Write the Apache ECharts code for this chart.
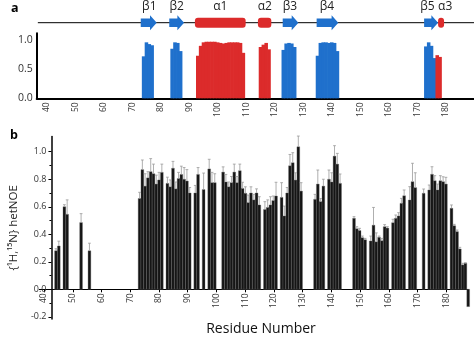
<!DOCTYPE html>
<html><head><meta charset="utf-8">
<script src="https://cdn.jsdelivr.net/npm/echarts@6/dist/echarts.min.js"></script>
<style>html,body{margin:0;padding:0;background:#fff}#c{width:474px;height:338px}</style>
</head><body><div id="c"></div>
<script>
// ---------- data ----------
const xTickLabels = [40,50,60,70,80,90,100,110,120,130,140,150,160,170,180];
const topYTicks = [0, 0.5, 1.0];
const noeYTicks = [-0.2, 0, 0.2, 0.4, 0.6, 0.8, 1.0];
const noeYMinor = [-0.1, 0.1, 0.3, 0.5, 0.7, 0.9];

// secondary structure elements: [label, type, startResidue, endResidue, labelResidue]
const ssElements = [
  ['β1','strand',73.0,78.6,76.0],
  ['β2','strand',83.0,88.2,85.6],
  ['α1','helix',92.0,109.8,100.9],
  ['α2','helix',114.1,118.8,116.5],
  ['β3','strand',122.8,128.3,125.3],
  ['β4','strand',134.7,142.3,138.3],
  ['β5','strand',172.4,177.3,173.6],
  ['α3','helix',177.3,179.4,179.8]
];
const backboneRange = [36.9, 189.9];

// panel a: per-residue propensity
const betaRes = [74,75,76,77, 84,85,86,87, 123,124,125,126,127, 135,136,137,138,139,140,141,142, 173,174,175,176];
const betaVal = [0.72,0.96,0.93,0.91, 0.85,0.96,0.95,0.81, 0.83,0.94,0.95,0.94,0.88, 0.73,0.95,0.96,0.96,0.95,0.96,0.95,0.81, 0.89,0.96,0.90,0.69];
const helixRes = [93,94,95,96,97,98,99,100,101,102,103,104,105,106,107,108,109, 115,116,117,118, 177,178];
const helixVal = [0.73,0.90,0.96,0.97,0.97,0.97,0.97,0.96,0.95,0.94,0.95,0.96,0.96,0.96,0.96,0.95,0.78, 0.88,0.92,0.95,0.84, 0.74,0.71];

// panel b: hetNOE
const noeRes = [40,41,43,44,49,52,
  70,71,72,73,74,75,76,77,78, 80,81,82,83,84,85,86,87,88, 90,91,93,95,96,97,
  100,101,102,103,104,105,106,107,108,109,110,111,112,113, 115,116,117,118,119,
  121,122,123,124,125,126,127,128, 133,134,135,136,138,139,140,141,142,
  147,148,149,150,151,153,154,155,156,157,158,159, 161,162,163,164,165,167,168,169,
  172,174,175,176,177,178,179,180, 182,183,184,185,186,187,188];
const noeVal = [0.28,0.315,0.60,0.545,0.485,0.28,
  0.66,0.87,0.75,0.81,0.855,0.84,0.765,0.795,0.85, 0.77,0.745,0.88,0.73,0.805,0.835,0.80,0.787,0.70, 0.70,0.835,0.725,0.875,0.775,0.775,
  0.852,0.78,0.745,0.775,0.852,0.775,0.862,0.733,0.698,0.63,0.70,0.65,0.70,0.613, 0.58,0.595,0.613,0.645,0.678,
  0.668,0.533,0.70,0.898,0.92,0.794,1.036,0.714, 0.654,0.765,0.637,0.75,0.80,0.78,0.968,0.91,0.77,
  0.516,0.44,0.427,0.375,0.36,0.351,0.466,0.345,0.378,0.353,0.455,0.445, 0.484,0.516,0.533,0.625,0.68,0.649,0.782,0.739,
  0.698,0.722,0.836,0.789,0.722,0.789,0.782,0.765, 0.589,0.462,0.419,0.293,0.177,0.189,-0.126];
const noeErrTop = [0.295,0.35,0.615,0.65,0.55,0.335,
  0.705,0.94,0.84,0.855,0.95,0.91,0.83,0.85,0.91, 0.815,0.795,0.93,0.78,0.85,0.895,0.885,0.87,0.74, 0.755,0.885,0.845,0.945,0.85,0.84,
  0.89,0.835,0.78,0.82,0.91,0.82,0.91,0.778,0.745,0.685,0.745,0.69,0.73,0.673, 0.637,0.65,0.673,0.678,0.778,
  0.775,0.605,0.74,0.98,0.993,0.847,1.114,0.775, 0.69,0.867,0.66,0.80,0.867,0.847,1.044,0.988,0.838,
  0.528,0.455,0.443,0.387,0.37,0.387,0.595,0.41,0.387,0.37,0.47,0.455, 0.509,0.54,0.557,0.661,0.722,0.746,0.916,0.847,
  0.729,0.758,0.891,0.826,0.765,0.826,0.818,0.814, 0.613,0.472,0.431,0.305,0.189,0.193,-0.126];

// ---------- chart ----------
const F = "'Open Sans','Liberation Sans',sans-serif";
const BLUE = '#1f70cc', RED = '#dc2b2b';
const chart = echarts.init(document.getElementById('c'), null, {renderer:'canvas'});

// bar drawn through axis coordinates: one residue wide, from 0 to value
function barItem(fill, stroke, lw, half){
  return function(params, api){
    const x = api.value(0), v = api.value(1);
    const p0 = api.coord([x-half, Math.max(v,0)]);
    const p1 = api.coord([x+half, Math.min(v,0)]);
    const style = {fill:fill};
    if (stroke) { style.stroke = stroke; style.lineWidth = lw; }
    return {type:'rect', shape:{x:p0[0], y:p0[1], width:p1[0]-p0[0], height:p1[1]-p0[1]}, style:style};
  };
}

const option = {
  animation:false,
  backgroundColor:'#fff',
  textStyle:{fontFamily:F},
  grid:[
    {left:36.7, top:0, width:437.3, height:45.4},
    {left:36.7, top:33.3, width:437.3, height:65},
    {left:39.3, top:136.6, width:428.9, height:182.4},
    {left:39.3, top:136.6, width:428.9, height:152.7}
  ],
  xAxis:[
    {gridIndex:0, type:'value', min:36.5, max:189.9, show:false},
    {gridIndex:1, type:'value', min:36.5, max:189.9,
      axisLine:{show:true, lineStyle:{color:'#000', width:2}}, axisTick:{show:false}, splitLine:{show:false},
      axisLabel:{customValues:xTickLabels, rotate:90, fontSize:8.5, color:'#333', margin:4, fontFamily:F}},
    {gridIndex:2, type:'value', min:38.36, max:188, show:false},
    {gridIndex:3, type:'value', min:38.36, max:187.6,
      axisLine:{show:true, onZero:false, lineStyle:{color:'#000', width:1}},
      axisTick:{show:true, customValues:xTickLabels, length:3, lineStyle:{color:'#000'}}, splitLine:{show:false},
      axisLabel:{customValues:xTickLabels, rotate:90, fontSize:8.5, color:'#333', margin:4, fontFamily:F}}
  ],
  yAxis:[
    {gridIndex:0, type:'value', min:-1, max:1, show:false},
    {gridIndex:1, type:'value', min:0, max:1.115, position:'left',
      axisLine:{show:true, lineStyle:{color:'#000', width:2}}, axisTick:{show:false}, splitLine:{show:false},
      axisLabel:{customValues:topYTicks, formatter:v=>v.toFixed(1), fontSize:10.5, color:'#333', margin:4, fontFamily:F}},
    {gridIndex:2, type:'value', min:-0.216, max:1.11, position:'left',
      name:'{¹H,¹⁵N} hetNOE', nameLocation:'middle', nameGap:24,
      nameTextStyle:{fontSize:11.5, color:'#222', fontFamily:F},
      axisLine:{show:true, lineStyle:{color:'#000', width:1.5}},
      axisTick:{show:true, customValues:noeYTicks, length:3, lineStyle:{color:'#000'}}, splitLine:{show:false},
      axisLabel:{customValues:noeYTicks, formatter:v=>v.toFixed(1), fontSize:9, color:'#333', margin:5, fontFamily:F}},
    {gridIndex:2, type:'value', min:-0.216, max:1.11, position:'left',
      axisLine:{show:false}, axisTick:{show:true, customValues:noeYMinor, length:2, lineStyle:{color:'#000'}},
      axisLabel:{show:false}, splitLine:{show:false}},
    {gridIndex:3, type:'value', min:0, max:1, show:false}
  ],
  series:[
    {type:'line', xAxisIndex:0, yAxisIndex:0, z:1, data:[[backboneRange[0],0],[backboneRange[1],0]],
      symbol:'none', lineStyle:{color:'#000', width:1}, silent:true},
    {type:'custom', xAxisIndex:0, yAxisIndex:0, clip:false, silent:true, z:5,
      data: ssElements.map(e=>[e[2], e[3]]), encode:{x:[0,1]},
      renderItem(params, api){
        const e = ssElements[params.dataIndex];
        const a = api.coord([e[2],0]), b = api.coord([e[3],0]), c = api.coord([e[4],0]);
        const y = a[1];
        const ch = [];
        if (e[1]==='helix'){
          ch.push({type:'rect', shape:{x:a[0], y:y-5, width:b[0]-a[0], height:10, r:3}, style:{fill:RED}});
        } else {
          const hx = b[0]-6.7;
          ch.push({type:'polygon', shape:{points:[[a[0],y-4.2],[hx,y-4.2],[hx,y-7.5],[b[0],y],[hx,y+7.5],[hx,y+4.2],[a[0],y+4.2]]}, style:{fill:BLUE}});
        }
        ch.push({type:'text', style:{text:e[0], x:c[0], y:y-16, align:'center', verticalAlign:'middle', fontSize:12, fill:'#222', fontFamily:F}});
        return {type:'group', children:ch};
      }},
    {type:'custom', xAxisIndex:1, yAxisIndex:1, silent:true, z:3,
      data: betaRes.map((r,i)=>[r, betaVal[i]]), encode:{x:0, y:1},
      renderItem: barItem(BLUE, null, 0, 0.62)},
    {type:'custom', xAxisIndex:1, yAxisIndex:1, silent:true, z:3,
      data: helixRes.map((r,i)=>[r, helixVal[i]]), encode:{x:0, y:1},
      renderItem: barItem(RED, null, 0, 0.62)},
    {type:'custom', xAxisIndex:2, yAxisIndex:2, silent:true, z:3,
      data: noeRes.map((r,i)=>[r, noeVal[i]]), encode:{x:0, y:1},
      renderItem: barItem('#151515', '#6a6a6a', 0.35, 0.5)},
    {type:'custom', xAxisIndex:2, yAxisIndex:2, silent:true, z:4,
      data: noeRes.map((r,i)=>[r, noeVal[i], noeErrTop[i]]), encode:{x:0, y:1},
      renderItem(params, api){
        const x = api.value(0), v = api.value(1), t = api.value(2);
        if (!(t > v)) return null;
        const p0 = api.coord([x,v]), p1 = api.coord([x,t]);
        const st = {stroke:'#9a9a9a', lineWidth:0.8};
        return {type:'group', children:[
          {type:'line', shape:{x1:p0[0], y1:p0[1], x2:p1[0], y2:p1[1]}, style:st},
          {type:'line', shape:{x1:p1[0]-1.4, y1:p1[1], x2:p1[0]+1.4, y2:p1[1]}, style:st}
        ]};
      }}
  ],
  graphic:[
    {type:'text', left:11, top:2, style:{text:'a', fontSize:12.5, fontWeight:'bold', fill:'#000', fontFamily:F}},
    {type:'text', left:10, top:129, style:{text:'b', fontSize:12.5, fontWeight:'bold', fill:'#000', fontFamily:F}},
    {type:'text', x:261, y:329, style:{text:'Residue Number', fontSize:14, fill:'#111', align:'center', verticalAlign:'middle', fontFamily:F}}
  ]
};
chart.setOption(option);
</script>
</body></html>
